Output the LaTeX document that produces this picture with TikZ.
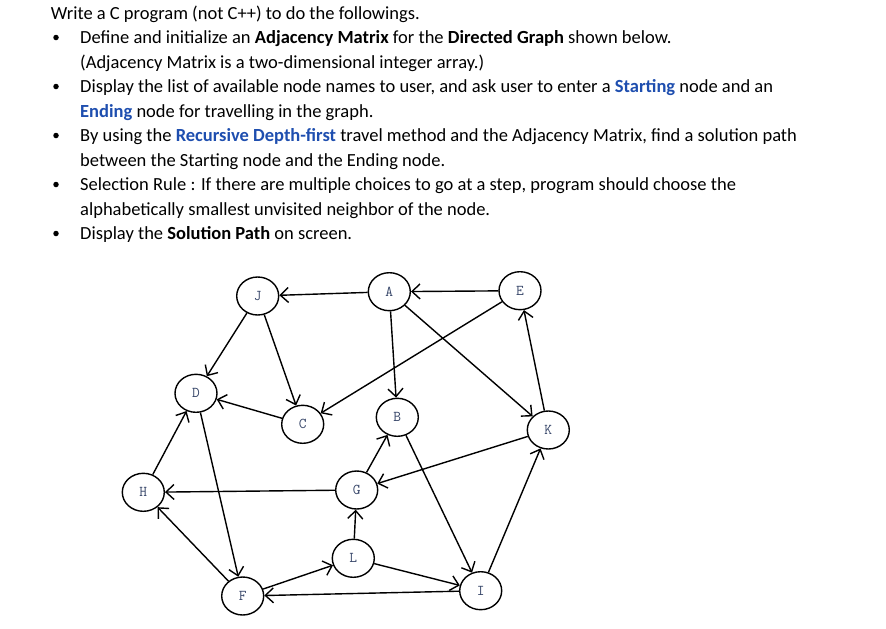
\documentclass[tikz,border=0pt]{standalone}
\usepackage{fontspec}
\setmainfont{Carlito}
\usetikzlibrary{shapes.geometric,arrows.meta}
\definecolor{kwblue}{RGB}{30,78,175}
\definecolor{lettercol}{RGB}{55,70,105}
\begin{document}
\begin{tikzpicture}[x=1pt,y=-1pt,
  txt/.style={anchor=base west,inner sep=0pt,font=\fontsize{18.5}{22}\selectfont},
  bul/.style={circle,fill=black,inner sep=0pt,minimum size=5.5pt},
  vx/.style={ellipse,draw,line width=1.4pt,minimum width=42pt,minimum height=38pt,inner sep=0pt,font=\ttfamily\fontsize{15}{15}\selectfont,text=lettercol},
  arr/.style={line width=1.4pt,-{Straight Barb[length=8pt,width=15pt,line width=1.4pt]}}]
\useasboundingbox (0,0) rectangle (886,629);
% text
\newcommand{\kb}[1]{\textbf{\textcolor{kwblue}{#1}}}
\node[txt] (t1) at (50.7,19.3) {Write a C program (not C++) to do the followings.};
\node[bul] (b1) at (56,37.5) {};
\node[txt] (t2) at (80,43.8) {Define and initialize an \textbf{Adjacency Matrix} for the \textbf{Directed Graph} shown below.};
\node[txt] (t3) at (80,68.3) {(Adjacency Matrix is a two-dimensional integer array.)};
\node[bul] (b2) at (56,86.5) {};
\node[txt] (t4) at (80,92.8) {Display the list of available node names to user, and ask user to enter a \kb{Starting} node and an};
\node[txt] (t5) at (80,117.3) {\kb{Ending} node for travelling in the graph.};
\node[bul] (b3) at (56,135.5) {};
\node[txt] (t6) at (80,141.8) {By using the \kb{Recursive Depth-first} travel method and the Adjacency Matrix, find a solution path};
\node[txt] (t7) at (80,166.3) {between the Starting node and the Ending node.};
\node[bul] (b4) at (56,184.5) {};
\node[txt] (t8) at (80,190.8) {Selection Rule : If there are multiple choices to go at a step, program should choose the};
\node[txt] (t9) at (80,215.3) {alphabetically smallest unvisited neighbor of the node.};
\node[bul] (b5) at (56,233.5) {};
\node[txt] (t10) at (80,239.8) {Display the \textbf{Solution Path} on screen.};
% vertices
\node[vx] (J) at (257.7,296) {J};
\node[vx] (A) at (389.3,291.7) {A};
\node[vx] (E) at (520,290.7) {E};
\node[vx] (D) at (196,393.3) {D};
\node[vx] (C) at (302.7,424.3) {C};
\node[vx] (B) at (397.3,417.3) {B};
\node[vx] (K) at (548.3,430) {K};
\node[vx] (H) at (143.3,492.3) {H};
\node[vx] (G) at (356.7,490) {G};
\node[vx] (L) at (353.3,558.3) {L};
\node[vx] (F) at (242.7,596) {F};
\node[vx] (I) at (480.7,590.7) {I};
% edges
\draw[arr] (A) -- (J);
\draw[arr] (E) -- (A);
\draw[arr] (J) -- (D);
\draw[arr] (J) -- (C);
\draw[arr] (E) -- (C);
\draw[arr] (A) -- (B);
\draw[arr] (A) -- (K);
\draw[arr] (K) -- (E);
\draw[arr] (C) -- (D);
\draw[arr] (H) -- (D);
\draw[arr] (D) -- (F);
\draw[arr] (G) -- (B);
\draw[arr] (B) -- (I);
\draw[arr] (K) -- (G);
\draw[arr] (G) -- (H);
\draw[arr] (L) -- (G);
\draw[arr] (F) -- (H);
\draw[arr] (F) -- (L);
\draw[arr] (L) -- (I);
\draw[arr] (I) -- (F);
\draw[arr] (I) -- (K);
\end{tikzpicture}
\end{document}
